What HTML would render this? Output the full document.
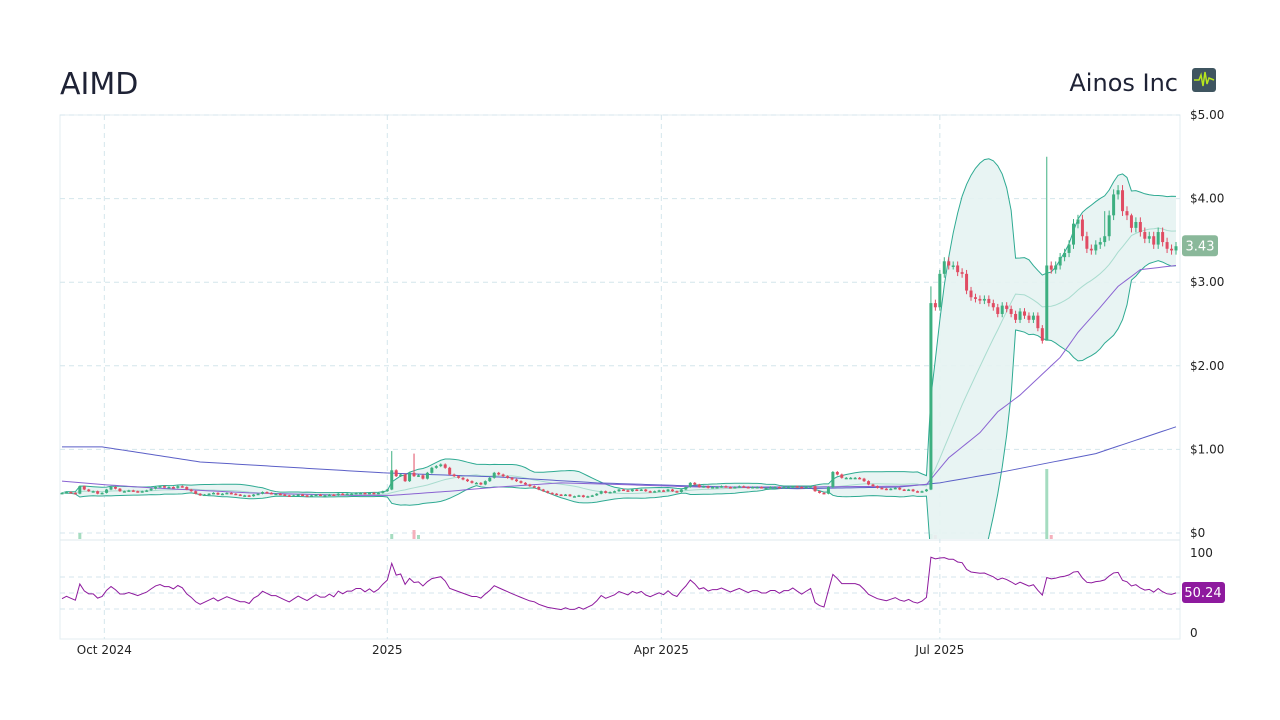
<!DOCTYPE html>
<html><head><meta charset="utf-8"><style>
body{margin:0;background:#fff;font-family:"DejaVu Sans","Liberation Sans",sans-serif;}
#wrap{position:relative;width:1280px;height:720px;overflow:hidden;}
svg text{font-family:"DejaVu Sans","Liberation Sans",sans-serif;}
</style></head><body>
<div id="wrap">
<svg id="c" width="1280" height="720"></svg>
</div>
<script>
const closes=[0.48,0.49,0.48,0.47,0.56,0.52,0.50,0.50,0.47,0.48,
0.52,0.55,0.53,0.50,0.50,0.51,0.50,0.49,0.50,0.51,
0.53,0.55,0.56,0.55,0.55,0.54,0.56,0.55,0.52,0.50,
0.47,0.45,0.46,0.47,0.48,0.46,0.47,0.48,0.47,0.46,
0.45,0.45,0.44,0.46,0.47,0.49,0.48,0.47,0.47,0.46,
0.45,0.44,0.45,0.46,0.45,0.44,0.45,0.46,0.45,0.45,
0.46,0.45,0.47,0.46,0.47,0.47,0.48,0.48,0.47,0.48,
0.47,0.48,0.50,0.52,0.75,0.68,0.70,0.62,0.72,0.68,
0.69,0.65,0.72,0.78,0.80,0.82,0.78,0.70,0.68,0.66,
0.64,0.62,0.60,0.60,0.58,0.62,0.66,0.72,0.70,0.68,
0.66,0.64,0.62,0.60,0.58,0.56,0.55,0.52,0.50,0.48,
0.47,0.46,0.45,0.46,0.44,0.44,0.45,0.43,0.44,0.45,
0.47,0.50,0.48,0.49,0.50,0.52,0.51,0.50,0.52,0.51,
0.52,0.50,0.49,0.50,0.51,0.50,0.52,0.50,0.49,0.52,
0.55,0.60,0.58,0.55,0.56,0.54,0.55,0.55,0.56,0.55,
0.54,0.55,0.56,0.55,0.54,0.55,0.55,0.54,0.54,0.55,
0.55,0.54,0.55,0.55,0.56,0.55,0.54,0.55,0.56,0.50,
0.48,0.47,0.55,0.73,0.70,0.66,0.66,0.66,0.66,0.65,
0.62,0.58,0.56,0.54,0.53,0.52,0.53,0.54,0.52,0.51,
0.52,0.50,0.49,0.50,0.52,2.75,2.70,3.10,3.25,3.20,
3.20,3.12,3.10,2.90,2.82,2.80,2.78,2.80,2.75,2.70,
2.62,2.72,2.68,2.62,2.55,2.65,2.60,2.55,2.60,2.45,
2.30,3.20,3.15,3.20,3.30,3.35,3.45,3.70,3.75,3.55,
3.40,3.38,3.45,3.48,3.55,3.80,4.05,4.10,3.85,3.80,
3.65,3.72,3.60,3.52,3.55,3.45,3.60,3.48,3.40,3.38,3.43];
const spikeIdx=[74,79,195,221,234,240];
const spikeHigh=[0.98,0.95,2.95,4.50,3.85,3.82];
const volIdx=[4,74,79,80,195,196,221,222];
const volVals=[6,5,9,4,5,4,70,4];
const longMaIdx=[0,9,31,53,72,98,120,143,165,188,197,210,232,250];
const longMaVals=[1.03,1.03,0.85,0.78,0.72,0.67,0.60,0.56,0.53,0.55,0.60,0.72,0.95,1.27];
const midMaIdx=[0,9,20,42,65,74,87,98,112,125,143,165,188,194,199,206,210,215,219,224,228,233,237,242,250];
const midMaVals=[0.62,0.58,0.54,0.48,0.45,0.45,0.50,0.55,0.60,0.58,0.55,0.55,0.56,0.58,0.9,1.2,1.45,1.65,1.85,2.1,2.4,2.7,2.95,3.15,3.2];
const priceTicks=[0,1,2,3,4,5];
const rsiTicks=[0,100];
const dateLabels=["Oct 2024","2025","Apr 2025","Jul 2025"];
const dateIdx=[9.5,73,134.5,197];
const lastPriceLabel="3.43";
const lastRsiLabel="50.24";

const NS="http://www.w3.org/2000/svg";
const svg=document.getElementById('c');
function el(t,a,p){const e=document.createElementNS(NS,t);for(const k in a)e.setAttribute(k,a[k]);(p||svg).appendChild(e);return e;}
const L=60,R=1180,T=115,B=539;
const N=closes.length;
const xs=i=>62+i*(1114/(N-1));
const ys=v=>533-v*83.6;
const ry=v=>633-v*0.8;

const frame=el('rect',{x:L,y:T,width:R-L,height:524,fill:'none',stroke:'#e3edf2'});

el('line',{x1:L,x2:R,y1:B+1,y2:B+1,stroke:'#dfe9ee'});
priceTicks.forEach(p=>{
  const g=el('line',{x1:L,x2:R,y1:ys(p),y2:ys(p),stroke:'#d4e6ec','stroke-dasharray':'5,4'});
  
  const t=el('text',{x:1190,y:ys(p)+4,'font-size':12,fill:'#222'});t.textContent=p===0?'$0':'$'+p.toFixed(2);
  
});
dateIdx.forEach((d,i)=>{
  const g=el('line',{x1:xs(d),x2:xs(d),y1:T,y2:639,stroke:'#d4e6ec','stroke-dasharray':'5,4'});
  
  const t=el('text',{x:xs(d),y:654,'font-size':12,fill:'#222','text-anchor':'middle'});t.textContent=dateLabels[i];
  
});
[30,50,70].forEach(v=>{const g=el('line',{x1:L,x2:R,y1:ry(v),y2:ry(v),stroke:'#d4e6ec','stroke-dasharray':'5,4'});
});
rsiTicks.forEach(v=>{const t=el('text',{x:1190,y:ry(v)+4,'font-size':12,fill:'#222'});t.textContent=v;
});

const defs=el('defs',{});
const cp=el('clipPath',{id:'mc'},defs);el('rect',{x:L,y:T,width:R-L,height:B-T},cp);
const main=el('g',{'clip-path':'url(#mc)'});


volIdx.forEach((i,k)=>{const c=closes[i]>=(i?closes[i-1]:closes[i]);
const r=el('rect',{x:xs(i)-1.5,y:B-volVals[k],width:3,height:volVals[k],fill:c?'#a5dcc0':'#f5b0bc'},main);
});

const up=[],lo=[],mid=[];
for(let i=0;i<N;i++){const s=closes.slice(Math.max(0,i-19),i+1);const m=s.reduce((a,b)=>a+b)/s.length;
const sd=Math.sqrt(s.reduce((a,b)=>a+(b-m)*(b-m),0)/s.length);mid.push(m);up.push(m+2*sd);lo.push(m-2*sd);}
let d='';for(let i=0;i<N;i++)d+=(i?'L':'M')+xs(i)+','+ys(up[i]);for(let i=N-1;i>=0;i--)d+='L'+xs(i)+','+ys(lo[i]);
const bf=el('path',{d:d+'Z',fill:'#e6f3f2',opacity:0.9},main);
function line(arr,fn,col,w,name,par){let p='';arr.forEach((v,i)=>p+=(i?'L':'M')+fn(i)+','+ys(v));
const e=el('path',{d:p,fill:'none',stroke:col,'stroke-width':w},par||main);return e;}
line(up,xs,'#2eaa92',1,'bollinger-upper');line(lo,xs,'#2eaa92',1,'bollinger-lower');line(mid,xs,'#a9dccf',1,'bollinger-middle');
function interp(idx,vals){const o=[];for(let i=0;i<N;i++){let k=0;while(k<idx.length-2&&idx[k+1]<i)k++;const t=(i-idx[k])/(idx[k+1]-idx[k]);o.push(vals[k]+(vals[k+1]-vals[k])*Math.max(0,Math.min(1,t)));}return o;}
line(interp(longMaIdx,longMaVals),xs,'#5b5fc7',1,'moving-average-long');
line(interp(midMaIdx,midMaVals),xs,'#8a63d2',1,'moving-average-mid');

for(let i=0;i<N;i++){const o=i?closes[i-1]:closes[0],c=closes[i];const g=c>=o;const col=g?'#3daf80':'#e04c63';
let hi=Math.max(o,c)*1.015,lw=Math.min(o,c)*0.985;const si=spikeIdx.indexOf(i);if(si>=0)hi=spikeHigh[si];
if(i===221)lw=2.88;
const w=el('line',{x1:xs(i),x2:xs(i),y1:ys(hi),y2:ys(lw),stroke:col,'stroke-width':1},main);

const top=ys(Math.max(o,c)),h=Math.max(1.5,Math.abs(ys(o)-ys(c)));
const r=el('rect',{x:xs(i)-1.5,y:top,width:3,height:h,fill:col},main);
}

const rsi=[];let ag=0.006,al=0.008;
for(let i=0;i<N;i++){if(i===0){rsi.push(100-100/(1+ag/al));continue;}const ch=closes[i]-closes[i-1];const g=Math.max(ch,0),l=Math.max(-ch,0);
ag=(ag*13+g)/14;al=(al*13+l)/14;
rsi.push(al===0?100:100-100/(1+ag/al));}
let rp='';rsi.forEach((v,i)=>rp+=(i?'L':'M')+xs(i)+','+ry(v));
const rl=el('path',{d:rp,fill:'none',stroke:'#8e1a9e','stroke-width':1});

const pl=el('g',{});
el('rect',{x:1182,y:ys(closes[N-1])-11,width:36,height:21,rx:3,fill:'#8ab89a'},pl);
const pt=el('text',{x:1200,y:ys(closes[N-1])+4,'font-size':13,fill:'#fff','text-anchor':'middle'},pl);pt.textContent=lastPriceLabel;
const rlb=el('g',{});
el('rect',{x:1182,y:582,width:43,height:21,rx:3,fill:'#8e1a9e'},rlb);
const rt=el('text',{x:1203,y:597,'font-size':13,fill:'#fff','text-anchor':'middle'},rlb);rt.textContent=lastRsiLabel;

const t1=el('text',{x:60,y:94,'font-size':30,fill:'#1e2235'});t1.textContent='AIMD';
const t2=el('text',{x:1178,y:91,'font-size':24,fill:'#1e2235','text-anchor':'end'});t2.textContent='Ainos Inc';
const ic=el('g',{});
el('rect',{x:1192,y:68,width:24,height:24,rx:3,fill:'#3f5560'},ic);
el('polyline',{points:'1194,80 1199,80 1201,75 1203,86 1205,72 1207,84 1209,78 1214,80',fill:'none',stroke:'#b7e61e','stroke-width':1.5},ic);
</script>
</body></html>
